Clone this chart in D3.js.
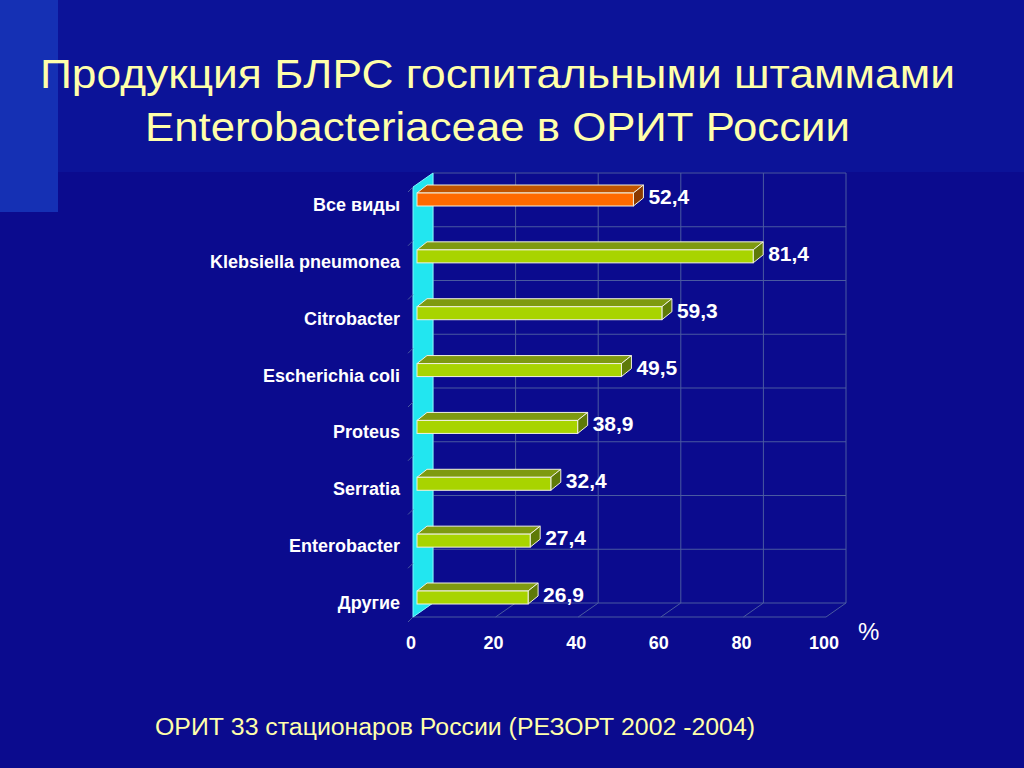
<!DOCTYPE html>
<html lang="ru">
<head>
<meta charset="UTF-8">
<script src="https://cdn.jsdelivr.net/npm/d3@7"></script>
<style>
  body { margin: 0; background: #0a0a8c; }
  text { font-family: Arial, "Liberation Sans", sans-serif; }
</style>
</head>
<body>
<svg id="chart" width="1024" height="768"></svg>
<script>
const categories = ["Все виды", "Klebsiella pneumonea", "Citrobacter", "Escherichia coli",
  "Proteus", "Serratia", "Enterobacter", "Другие"];
const values = [52.4, 81.4, 59.3, 49.5, 38.9, 32.4, 27.4, 26.9];
const ticks = [0, 20, 40, 60, 80, 100];

const svg = d3.select("#chart");
const dx = 20, dy = -14;          // depth of the 3d box
const front = { left: 413, right: 826, top: 187, bottom: 617 };

// background
svg.append("rect").attr("width", 1024).attr("height", 768).attr("fill", "#0b0b8e");
svg.append("rect").attr("width", 58).attr("height", 212).attr("fill", "#1530b4");
svg.append("rect").attr("x", 58).attr("width", 966).attr("height", 172).attr("fill", "#1020a8").attr("opacity", 0.4);

// title
svg.append("text").attr("x", 40).attr("y", 88).attr("textLength", 915).attr("lengthAdjust", "spacingAndGlyphs")
  .attr("fill", "#ffffaa").attr("font-size", 40).text("Продукция БЛРС госпитальными штаммами");
svg.append("text").attr("x", 145).attr("y", 141).attr("textLength", 705).attr("lengthAdjust", "spacingAndGlyphs")
  .attr("fill", "#ffffaa").attr("font-size", 40).text("Enterobacteriaceae в ОРИТ России");

const x = d3.scaleLinear().domain([0, 100]).range([front.left, front.right]);
const y = d3.scalePoint().domain(categories).range([193, 591]);
const barH = 13;

const grid = svg.append("g").attr("stroke", "#4a5aa0").attr("stroke-width", 1).attr("fill", "none");
ticks.forEach(t => {
  grid.append("line").attr("x1", x(t) + dx).attr("x2", x(t) + dx)
    .attr("y1", front.top + dy).attr("y2", front.bottom + dy);
  grid.append("line").attr("x1", x(t)).attr("x2", x(t) + dx)
    .attr("y1", front.bottom).attr("y2", front.bottom + dy);
});
const step = (front.bottom - front.top) / categories.length;
d3.range(categories.length + 1).forEach(i => {
  const yy = front.top + i * step;
  grid.append("line").attr("x1", x(0) + dx).attr("x2", x(100) + dx)
    .attr("y1", yy + dy).attr("y2", yy + dy);
});
grid.append("line").attr("x1", x(0)).attr("x2", x(100)).attr("y1", front.bottom).attr("y2", front.bottom);

// cyan left wall
svg.append("path")
  .attr("d", `M${x(0)},${front.top}L${x(0) + dx},${front.top + dy}L${x(0) + dx},${front.bottom + dy}L${x(0)},${front.bottom}Z`)
  .attr("fill", "#22e6f0").attr("stroke", "#7ff4ff");
d3.range(categories.length + 1).forEach(i => {
  const yy = front.top + i * step;
  svg.append("line").attr("x1", x(0) - 5).attr("x2", x(0)).attr("y1", yy + 5).attr("y2", yy)
    .attr("stroke", "#4a5aa0");
});

// bars
const bd = 10, bdy = -8;
const bars = svg.append("g").selectAll("g").data(categories).join("g");
bars.each(function (c, i) {
  const g = d3.select(this);
  const x0 = x(0) + 4, x1 = x(values[i]) + 4;
  const y0 = y(c), h = barH;
  const isAll = i === 0;
  const frontCol = isAll ? "#ff6a00" : "#a8d400";
  const topCol = isAll ? "#c05400" : "#7e9a10";
  const sideCol = isAll ? "#8a3a00" : "#5e7a08";
  g.append("path").attr("d", `M${x0},${y0}L${x0 + bd},${y0 + bdy}L${x1 + bd},${y0 + bdy}L${x1},${y0}Z`)
    .attr("fill", topCol).attr("stroke", "#f0f0e0").attr("stroke-width", 1);
  g.append("path").attr("d", `M${x1},${y0}L${x1 + bd},${y0 + bdy}L${x1 + bd},${y0 + bdy + h}L${x1},${y0 + h}Z`)
    .attr("fill", sideCol).attr("stroke", "#f0f0e0").attr("stroke-width", 1);
  g.append("rect").attr("x", x0).attr("y", y0).attr("width", x1 - x0).attr("height", h)
    .attr("fill", frontCol).attr("stroke", "#f0f0e0").attr("stroke-width", 1);
  g.append("text").attr("x", x1 + bd + 5).attr("y", y0 + 11).attr("fill", "white")
    .attr("font-size", 21).attr("font-weight", "bold").text(values[i].toFixed(1).replace(".", ","));
  g.append("text").attr("x", 400).attr("y", y0 + 18).attr("text-anchor", "end")
    .attr("fill", "white").attr("font-size", 18).attr("font-weight", "bold").text(c);
});

// x axis labels
svg.append("g").selectAll("text").data(ticks).join("text")
  .attr("x", d => x(d) - 2).attr("y", 649).attr("text-anchor", "middle")
  .attr("fill", "white").attr("font-size", 18).attr("font-weight", "bold").text(d => d);
svg.append("text").attr("x", 858).attr("y", 640).attr("fill", "white").attr("font-size", 24).text("%");

// footer
svg.append("text").attr("x", 155).attr("y", 735).attr("textLength", 600).attr("lengthAdjust", "spacingAndGlyphs")
  .attr("fill", "#ffffaa").attr("font-size", 23).text("ОРИТ 33 стационаров России (РЕЗОРТ 2002 -2004)");
</script>
</body>
</html>
